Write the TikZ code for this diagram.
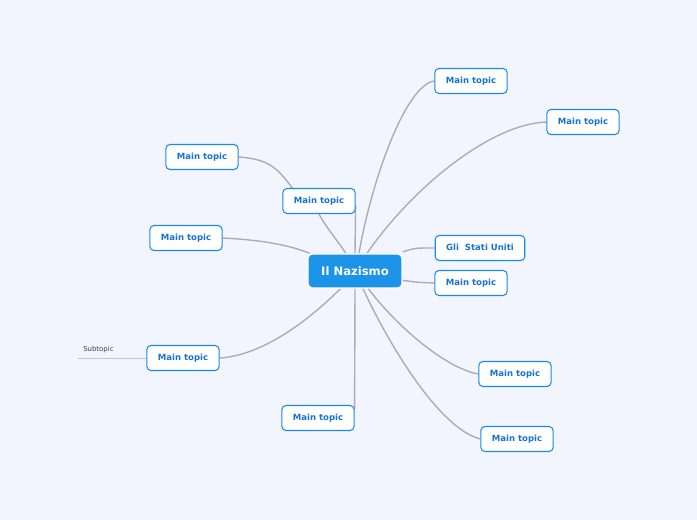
\documentclass[tikz,border=0pt]{standalone}
\usepackage{fontspec}
\setmainfont{DejaVu Sans}
\usetikzlibrary{positioning}

\pgfdeclarelayer{paper}
\pgfdeclarelayer{links}
\pgfsetlayers{paper,links,main}

\definecolor{bgblue}{RGB}{242,245,254}
\definecolor{topicblue}{RGB}{26,138,230}
\definecolor{textblue}{RGB}{22,114,212}
\definecolor{rootblue}{RGB}{27,148,232}
\definecolor{linkgray}{RGB}{172,172,184}

\tikzset{
  root/.style={rectangle, rounded corners=3pt, fill=rootblue, draw=white, line width=1.1pt,
    minimum width=70.5pt, minimum height=25.5pt, text=white, font=\fontsize{8.7}{10}\selectfont\bfseries},
  topic/.style={rectangle, rounded corners=3pt, fill=white, draw=topicblue, line width=0.8pt,
    minimum width=54pt, minimum height=18.75pt, inner xsep=8.2pt, text=textblue,
    text depth=1.2pt, font=\fontsize{6.4}{8}\selectfont\bfseries},
  subtopic/.style={inner sep=0pt, text=black!75, font=\fontsize{5.2}{6}\selectfont},
  link/.style={draw=linkgray, line width=1.05pt},
  sublink/.style={draw=linkgray!70, line width=0.5pt}
}

\begin{document}
\begin{tikzpicture}[x=0.75pt, y=-0.75pt]

    % Background
    \begin{pgfonlayer}{paper}
    \fill[bgblue] (0,0) rectangle (697,520);
    \end{pgfonlayer}
    \useasboundingbox (0,0) rectangle (697,520);

    % Define nodes
    \node[root]  (nazi)  at (355,271) {Il Nazismo};
    \node[topic] (top-a) at (471,81)  {Main topic};
    \node[topic] (top-b) at (583,122) {Main topic};
    \node[topic] (mid-a) at (319,201) {Main topic};
    \node[topic] (mid-b) at (202,157) {Main topic};
    \node[topic] (left-a) at (186,238) {Main topic};
    \node[topic] (usa)   at (480,248) {Gli\ \ Stati Uniti};
    \node[topic] (right-a) at (471,283) {Main topic};
    \node[topic] (left-b) at (183,358) {Main topic};
    \node[topic] (low-a) at (515,374) {Main topic};
    \node[topic] (low-b) at (318,418) {Main topic};
    \node[topic] (low-c) at (517,439) {Main topic};
    \node[subtopic, anchor=west] (sub) at (83,350) {Subtopic};
    \coordinate (sub-end) at (78,358);

    % Connect the nodes
    \begin{pgfonlayer}{links}
    \draw[sublink] (sub-end) -- (left-b.west);
    \draw[link] ([xshift=3pt]nazi.north) .. controls +(12,-70) and (405,85) .. (top-a.west);
    \draw[link] ([xshift=9pt]nazi.north) .. controls +(45,-65) and (490,124) .. (top-b.west);
    \draw[link] ([xshift=-7pt]nazi.north) .. controls +(-6,-10) and +(6,12) .. (mid-a.south);
    \draw[link] (nazi.north) -- ([yshift=-3pt]mid-a.east);
    \draw[link] (mid-b.east) .. controls +(30,2) and +(-15,-20) .. ([xshift=-20pt]mid-a.north);
    \draw[link] (left-a.east) .. controls +(40,2) and +(-20,-8) .. ([xshift=-34pt]nazi.north);
    \draw[link] ([yshift=1pt]nazi.north east) .. controls +(12,-4) .. (usa.west);
    \draw[link] ([yshift=-7pt]nazi.east) .. controls +(14,2) .. (right-a.west);
    \draw[link] (left-b.east) .. controls +(50,-3) and +(-20,20) .. ([xshift=-11pt]nazi.south);
    \draw[link] ([xshift=10pt]nazi.south) .. controls +(32,42) and +(-30,-5) .. (low-a.west);
    \draw[link] (nazi.south) -- ([yshift=-3pt]low-b.north east);
    \draw[link] ([xshift=6pt]nazi.south) .. controls +(28,60) and +(-40,-10) .. (low-c.west);
    \end{pgfonlayer}

\end{tikzpicture}
\end{document}
